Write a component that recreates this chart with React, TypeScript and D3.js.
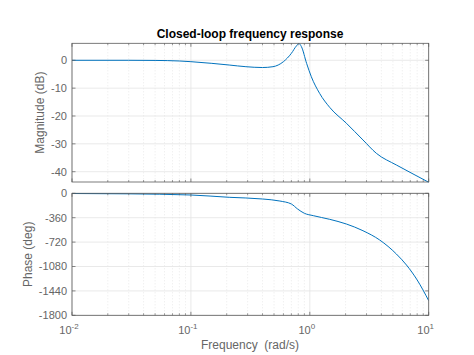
import React from "react";
import * as d3 from "d3";

const magFreq = [0.01, 0.03, 0.05, 0.08, 0.1, 0.15, 0.21, 0.29, 0.4, 0.49, 0.6, 0.7, 0.77, 0.81, 0.85, 0.94, 1.03, 1.21, 1.47, 2.03, 2.8, 3.63, 5.35, 7.38, 10];
const magDb = [0, 0, -0.05, -0.25, -0.5, -1.1, -1.7, -2.3, -2.6, -2.3, -0.5, 2.5, 5.1, 6.0, 4.9, -1.1, -5.9, -11.9, -16.9, -22.6, -28.6, -33.4, -37.6, -40.8, -43.8];

const phFreq = [0.01, 0.03, 0.1, 0.21, 0.4, 0.56, 0.7, 0.79, 0.9, 1.07, 1.47, 2.03, 2.8, 3.87, 5.35, 6.5, 8.0, 10];
const phDeg = [-3, -8, -25, -59, -84, -114, -158, -232, -295, -330, -384, -453, -552, -689, -896, -1058, -1279, -1584];

const magTicks = [0, -10, -20, -30, -40];
const phTicks = [0, -360, -720, -1080, -1440, -1800];
const decadeExps = [-2, -1, 0, 1];

const X0 = 72, X1 = 428.7;
const T0 = 43.3, T1 = 182;
const B0 = 193.3, B1 = 315.3;

const FONT = "'Liberation Sans', Arial, Helvetica, sans-serif";
const LABEL = "#666666";
const BOX = "#5a5a5a";
const LINE = "#0072BD";

export default function App() {
  const x = d3.scaleLog().domain([0.01, 10]).range([X0, X1]);
  const yM = d3.scaleLinear().domain([-43.7, 6.1]).range([T1, T0]);
  const yP = d3.scaleLinear().domain([-1800, 0]).range([B1, B0]);

  const minor: number[] = [];
  for (let e = -2; e < 1; e++) for (let k = 2; k <= 9; k++) minor.push(k * Math.pow(10, e));
  const major = decadeExps.map((e) => Math.pow(10, e));

  const magLine = d3
    .line<number>()
    .x((_, i) => x(magFreq[i]))
    .y((d) => yM(d))
    .curve(d3.curveMonotoneX)(magDb) as string;
  const phLine = d3
    .line<number>()
    .x((_, i) => x(phFreq[i]))
    .y((d) => yP(d))
    .curve(d3.curveMonotoneX)(phDeg) as string;

  const panel = (y0: number, y1: number, yScale: any, ticks: number[], path: string, id: string) => (
    <g>
      <rect x={X0} y={y0} width={X1 - X0} height={y1 - y0} fill="#fff" />
      <defs>
        <clipPath id={id}>
          <rect x={X0} y={y0 - 1} width={X1 - X0} height={y1 - y0 + 2} />
        </clipPath>
      </defs>
      {minor.map((f) => (
        <line key={"mg" + f} x1={x(f)} x2={x(f)} y1={y0} y2={y1} stroke="#dcdcdc" strokeWidth={0.6} strokeDasharray="1,2" />
      ))}
      {major.map((f) => (
        <line key={"Mg" + f} x1={x(f)} x2={x(f)} y1={y0} y2={y1} stroke="#e3e3e3" strokeWidth={0.8} />
      ))}
      {ticks.map((t) => (
        <line key={"yg" + t} x1={X0} x2={X1} y1={yScale(t)} y2={yScale(t)} stroke="#e3e3e3" strokeWidth={0.8} />
      ))}
      <path d={path} fill="none" stroke={LINE} strokeWidth={1} clipPath={`url(#${id})`} />
      {/* ticks */}
      {minor.map((f) => (
        <g key={"mt" + f}>
          <line x1={x(f)} x2={x(f)} y1={y1} y2={y1 - 2} stroke={BOX} strokeWidth={0.6} />
          <line x1={x(f)} x2={x(f)} y1={y0} y2={y0 + 2} stroke={BOX} strokeWidth={0.6} />
        </g>
      ))}
      {major.map((f) => (
        <g key={"Mt" + f}>
          <line x1={x(f)} x2={x(f)} y1={y1} y2={y1 - 3.5} stroke={BOX} strokeWidth={0.7} />
          <line x1={x(f)} x2={x(f)} y1={y0} y2={y0 + 3.5} stroke={BOX} strokeWidth={0.7} />
        </g>
      ))}
      {ticks.map((t) => (
        <g key={"yt" + t}>
          <line x1={X0} x2={X0 + 3.5} y1={yScale(t)} y2={yScale(t)} stroke={BOX} strokeWidth={0.7} />
          <line x1={X1} x2={X1 - 3.5} y1={yScale(t)} y2={yScale(t)} stroke={BOX} strokeWidth={0.7} />
          <text x={X0 - 5} y={yScale(t)} dy="0.35em" textAnchor="end" fontSize={11} fill={LABEL} fontFamily={FONT}>
            {t}
          </text>
        </g>
      ))}
      <rect x={X0} y={y0} width={X1 - X0} height={y1 - y0} fill="none" stroke={BOX} strokeWidth={0.8} />
    </g>
  );

  return (
    <svg width={474} height={355} style={{ position: "absolute", left: 0, top: 0 }}>
      <rect width={474} height={355} fill="#fff" />
      {panel(T0, T1, yM, magTicks, magLine, "clipMag")}
      {panel(B0, B1, yP, phTicks, phLine, "clipPh")}
      {decadeExps.map((e) => (
        <text key={"xl" + e} x={x(Math.pow(10, e)) - 3} y={334} textAnchor="middle" fontSize={11} fill={LABEL} fontFamily={FONT}>
          10
          <tspan dy={-5} fontSize={8}>
            {e}
          </tspan>
        </text>
      ))}
      <text x={250} y={38} textAnchor="middle" fontSize={12} fontWeight="bold" fill="#000" fontFamily={FONT}>
        Closed-loop frequency response
      </text>
      <text transform={`translate(44,${(T0 + T1) / 2}) rotate(-90)`} textAnchor="middle" fontSize={12} fill={LABEL} fontFamily={FONT}>
        Magnitude (dB)
      </text>
      <text transform={`translate(32,${(B0 + B1) / 2}) rotate(-90)`} textAnchor="middle" fontSize={12} fill={LABEL} fontFamily={FONT}>
        Phase (deg)
      </text>
      <text x={250} y={349} textAnchor="middle" fontSize={12} fill={LABEL} fontFamily={FONT} style={{ whiteSpace: "pre" }}>
        {"Frequency  (rad/s)"}
      </text>
    </svg>
  );
}
